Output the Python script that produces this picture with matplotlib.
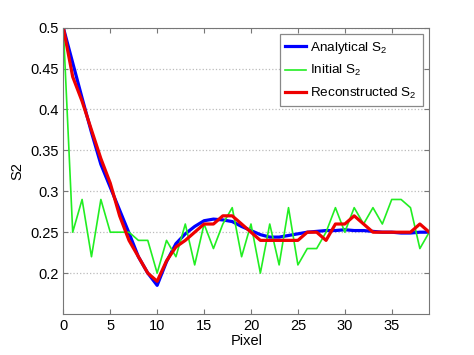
import numpy as np
import matplotlib
matplotlib.use("Agg")
import matplotlib.pyplot as plt

plt.rcParams['font.family'] = ['Liberation Sans', 'DejaVu Sans']
plt.rcParams['mathtext.default'] = 'regular'

# pixel index
pixel = np.arange(40)

# analytical S2
analytical = [0.500, 0.457, 0.414, 0.372, 0.333, 0.305, 0.277, 0.249, 0.220, 0.200,
              0.185, 0.214, 0.236, 0.248, 0.257, 0.264, 0.266, 0.265, 0.263, 0.257,
              0.252, 0.247, 0.244, 0.244, 0.246, 0.248, 0.250, 0.251, 0.252, 0.252,
              0.253, 0.252, 0.252, 0.251, 0.250, 0.250, 0.249, 0.249, 0.250, 0.250]

# initial S2
initial = [0.50, 0.25, 0.29, 0.22, 0.29, 0.25, 0.25, 0.25, 0.24, 0.24,
           0.20, 0.24, 0.22, 0.26, 0.21, 0.26, 0.23, 0.26, 0.28, 0.22,
           0.26, 0.20, 0.26, 0.21, 0.28, 0.21, 0.23, 0.23, 0.25, 0.28,
           0.25, 0.28, 0.26, 0.28, 0.26, 0.29, 0.29, 0.28, 0.23, 0.25]

# reconstructed S2
reconstructed = [0.50, 0.44, 0.41, 0.375, 0.34, 0.31, 0.27, 0.24, 0.22, 0.20,
                 0.19, 0.215, 0.232, 0.24, 0.25, 0.26, 0.26, 0.27, 0.27, 0.26,
                 0.25, 0.24, 0.24, 0.24, 0.24, 0.24, 0.25, 0.25, 0.24, 0.26,
                 0.26, 0.27, 0.26, 0.25, 0.25, 0.25, 0.25, 0.25, 0.26, 0.25]

fig = plt.figure(figsize=(4.74, 3.55), dpi=100)
ax = fig.add_axes([0.1336, 0.1155, 0.772, 0.8065])

ax.plot(pixel, analytical, color='#0000ff', lw=2.3, label='Analytical S$_2$')
ax.plot(pixel, initial, color='#22ee22', lw=1.2, label='Initial S$_2$')
ax.plot(pixel, reconstructed, color='#ee0000', lw=2.3, label='Reconstructed S$_2$')

ax.set_xlim(0, 39)
ax.set_ylim(0.15, 0.5)
ax.set_xticks([0, 5, 10, 15, 20, 25, 30, 35])
ax.set_yticks([0.2, 0.25, 0.3, 0.35, 0.4, 0.45, 0.5])
ax.set_yticklabels(['0.2', '0.25', '0.3', '0.35', '0.4', '0.45', '0.5'])
ax.yaxis.grid(True, linestyle=':', color='#bbbbbb', lw=0.9)
ax.tick_params(direction='in', top=True, right=True, labelsize=10.5,
               color='#777777', length=3.5)
for s in ax.spines.values():
    s.set_color('#777777')

ax.set_xlabel('Pixel', fontsize=10.5, labelpad=1)
ax.set_ylabel('S2', fontsize=10.5, labelpad=4)

leg = ax.legend(loc='upper right', fontsize=9.7, handlelength=1.6,
                handletextpad=0.3, borderpad=0.4, labelspacing=0.55,
                fancybox=False, framealpha=1, borderaxespad=0.5)
leg.get_frame().set_edgecolor('#888888')
leg.get_frame().set_linewidth(0.9)

fig.savefig('out.png', dpi=100)
